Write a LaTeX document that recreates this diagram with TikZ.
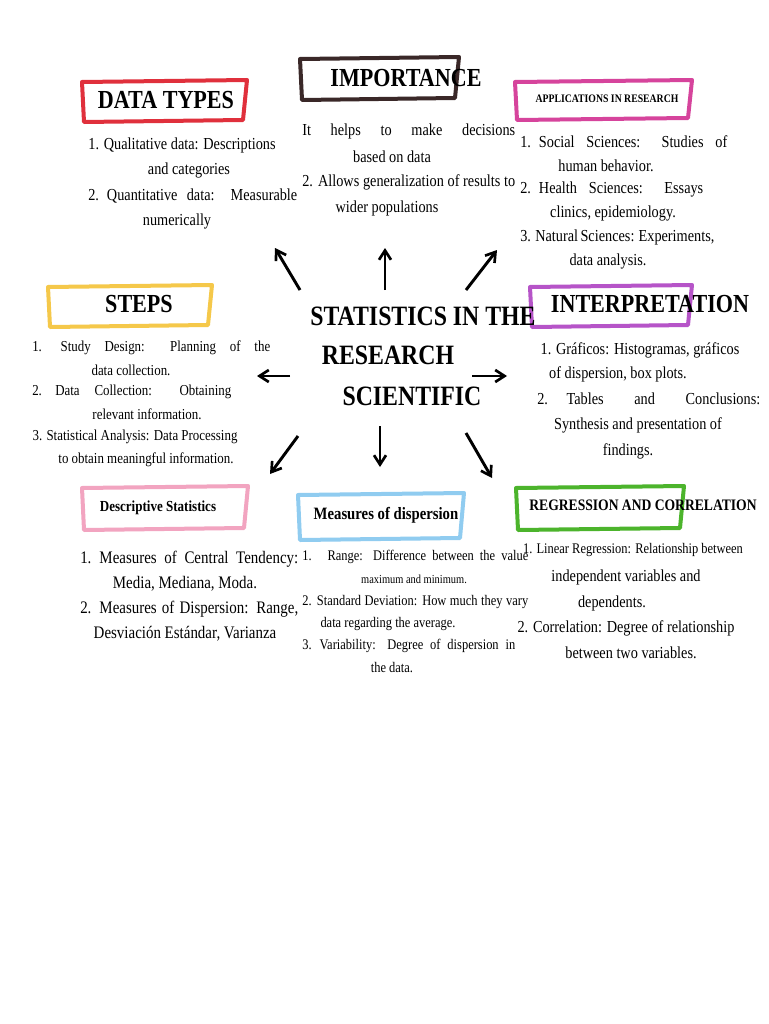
\documentclass[tikz,border=0pt]{standalone}
\usepackage{fontspec}
\setmainfont{Liberation Serif}[FakeStretch=0.85]
\usetikzlibrary{arrows.meta}
\newcommand{\ctl}[5]{\node[inner sep=0pt,font=\fontsize{#4}{#4}\selectfont] (#1) at (#2,#3) {#5};}
\newcommand{\jtl}[6]{\node[inner sep=0pt,anchor=west,font=\fontsize{#5}{#5}\selectfont] (#1) at (#2,#4) {\makebox[\dimexpr(#3pt-#2pt)*3/4\relax][s]{#6}};}
\newcommand{\frm}[5]{\draw[fr,#1] (#2,#3+2) -- (#4+4,#3) -- (#4,#5-2) -- (#2+2,#5) -- cycle;}
\newcommand{\gp}{\hspace{6pt}}
\begin{document}
\begin{tikzpicture}[x=0.75pt,y=-0.75pt,
  fr/.style={line width=3pt,line join=round},
  ar/.style={line width=2.2pt,-{Straight Barb[length=7pt,width=9pt,line width=2pt]}},
  tt/.style={inner sep=0pt,font=\bfseries\fontsize{19.5pt}{19pt}\selectfont}]
\useasboundingbox (0,0) rectangle (768,1024);
\fill[white] (0,0) rectangle (768,1024);
\definecolor{cred}{HTML}{E0303C}
\definecolor{cdark}{HTML}{3A2828}
\definecolor{cmag}{HTML}{D6449C}
\definecolor{cyel}{HTML}{F5C84A}
\definecolor{cpur}{HTML}{B654C8}
\definecolor{cpink}{HTML}{F2A4C0}
\definecolor{cblue}{HTML}{90CCF0}
\definecolor{cgreen}{HTML}{4CB42C}
% frames
\frm{cred}{82}{80}{243}{122}
\frm{cdark}{300}{57}{455}{100}
\frm{cmag}{515}{80}{688}{120}
\frm{cyel}{48}{285}{208}{327}
\frm{cpur}{530}{285}{688}{327}
\frm{cpink}{82}{486}{244}{530}
\frm{cblue}{298}{493}{460}{540}
\frm{cgreen}{516}{486}{680}{530}
% titles
\node[tt] (t1) at (166,100) {DATA TYPES};
\node[tt] (t2) at (406,78) {IMPORTANCE};
\node[tt,font=\bfseries\fontsize{8.6pt}{9pt}\selectfont] (t3) at (607,99) {APPLICATIONS IN RESEARCH};
\node[tt] (t4) at (139,304) {STEPS};
\node[tt,font=\bfseries\fontsize{19.5pt}{19pt}\selectfont] (t5) at (650,304) {INTERPRETATION};
\node[tt,font=\bfseries\fontsize{11.5pt}{11pt}\selectfont] (t6) at (158,508) {Descriptive Statistics};
\node[tt,font=\bfseries\fontsize{13pt}{12pt}\selectfont] (t7) at (386,515) {Measures of dispersion};
\node[tt,font=\bfseries\fontsize{12pt}{11pt}\selectfont] (t8) at (643,505) {REGRESSION AND CORRELATION};
% center
\node[tt,font=\bfseries\fontsize{21pt}{21pt}\selectfont] (c1) at (423,316) {STATISTICS IN THE};
\node[tt,font=\bfseries\fontsize{21pt}{21pt}\selectfont] (c2) at (388,355) {RESEARCH};
\node[tt,font=\bfseries\fontsize{21pt}{21pt}\selectfont] (c3) at (412,396) {SCIENTIFIC};
% arrows
\coordinate (a1s) at (300,290); \coordinate (a1e) at (275,248);
\coordinate (a2s) at (385,290); \coordinate (a2e) at (385,248);
\coordinate (a3s) at (466,290); \coordinate (a3e) at (497,250);
\coordinate (a4s) at (290,376); \coordinate (a4e) at (257,376);
\coordinate (a5s) at (472,376); \coordinate (a5e) at (507,376);
\coordinate (a6s) at (298,436); \coordinate (a6e) at (270,474);
\coordinate (a7s) at (380,426); \coordinate (a7e) at (380,467);
\coordinate (a8s) at (466,433); \coordinate (a8e) at (492,478);
\foreach \i in {1,...,8} \draw[ar] (a\i s) -- (a\i e);
% data types
\ctl{d1}{182}{145}{12.6pt}{1. Qualitative data: Descriptions}
\ctl{d2}{189}{170}{12.6pt}{and categories}
\jtl{d3}{88}{297}{196}{12.6pt}{2.\gp Quantitative data: Measurable}
\ctl{d4}{177}{221}{12.6pt}{numerically}
% importance
\jtl{i1}{302}{515}{131}{12.6pt}{It helps to make decisions}
\ctl{i2}{392}{157}{12.6pt}{based on data}
\jtl{i3}{302}{515}{182}{12.6pt}{2. Allows generalization of results to}
\ctl{i4}{387}{208}{12.6pt}{wider populations}
% applications
\jtl{p1}{520}{727}{142}{12.6pt}{1.\gp Social Sciences: Studies of}
\ctl{p2}{606}{166}{12.6pt}{human behavior.}
\jtl{p3}{520}{703}{189}{12.6pt}{2.\gp Health Sciences: Essays}
\ctl{p4}{613}{213}{12.6pt}{clinics, epidemiology.}
\jtl{p5}{520}{713}{237}{12.6pt}{3. Natural Sciences: Experiments,}
\ctl{p6}{608}{261}{12.6pt}{data analysis.}
% steps
\jtl{s1}{32}{270}{348}{11.4pt}{1.\hspace{14pt}Study Design: Planning of the}
\ctl{s2}{131}{370}{11.4pt}{data collection.}
\jtl{s3}{32}{231}{392}{11.4pt}{2.\hspace{10pt}Data Collection: Obtaining}
\ctl{s4}{147}{414}{11.4pt}{relevant information.}
\ctl{s5}{135}{437}{11.4pt}{3. Statistical Analysis: Data Processing}
\ctl{s6}{146}{460}{11.4pt}{to obtain meaningful information.}
% interpretation
\ctl{n1}{640}{350}{12.6pt}{1. Gráficos: Histogramas, gráficos}
\ctl{n2}{618}{374}{12.6pt}{of dispersion, box plots.}
\jtl{n3}{537}{760}{399}{12.6pt}{2.\hspace{14pt}Tables and Conclusions:}
\ctl{n4}{638}{425}{12.6pt}{Synthesis and presentation of}
\ctl{n5}{628}{451}{12.6pt}{findings.}
% descriptive
\jtl{e1}{80}{298}{559}{13.2pt}{1.\gp Measures of Central Tendency:}
\ctl{e2}{185}{584}{13.2pt}{Media, Mediana, Moda.}
\jtl{e3}{80}{298}{609}{13.2pt}{2.\gp Measures of Dispersion: Range,}
\ctl{e4}{185}{634}{13.2pt}{Desviación Estándar, Varianza}
% dispersion
\jtl{m1}{302}{528}{557}{11pt}{1.\hspace{12pt}Range: Difference between the value}
\ctl{m2}{414}{579}{9.2pt}{maximum and minimum.}
\jtl{m3}{302}{528}{602}{11pt}{2. Standard Deviation: How much they vary}
\ctl{m4}{388}{624}{11pt}{data regarding the average.}
\jtl{m5}{302}{515}{646}{11pt}{3.\gp Variability: Degree of dispersion in}
\ctl{m6}{392}{668}{11pt}{the data.}
% regression
\ctl{r1}{633}{550}{11pt}{1. Linear Regression: Relationship between}
\ctl{r2}{626}{577}{12.6pt}{independent variables and}
\ctl{r3}{612}{603}{12.6pt}{dependents.}
\ctl{r4}{626}{628}{12.6pt}{2. Correlation: Degree of relationship}
\ctl{r5}{631}{653}{12.6pt}{between two variables.}
\end{tikzpicture}
\end{document}
